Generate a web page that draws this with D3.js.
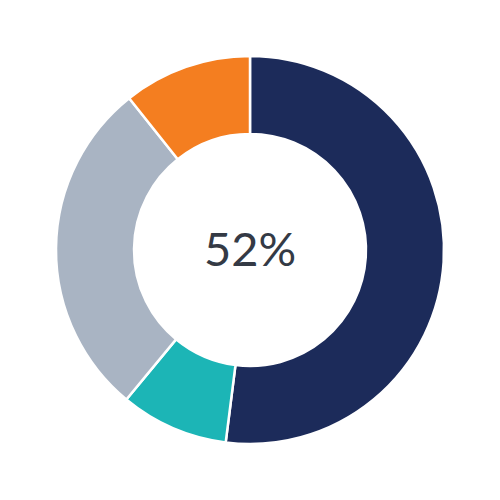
<!DOCTYPE html>
<html><head><meta charset="utf-8">
<script src="https://cdn.jsdelivr.net/npm/d3@7"></script>
<style>html,body{margin:0;padding:0;background:#fff;}</style>
</head><body>
<svg id="c" width="500" height="500"></svg>
<script>
const categories = ["A", "B", "C", "D"];
const values = [52, 9, 28.3, 10.7];
const colors = ["#1c2b5a", "#1cb5b6", "#a9b4c3", "#f47e20"];
const centerLabel = "52%";

const svg = d3.select("#c");
const g = svg.append("g").attr("transform", "translate(250,250)");
const pie = d3.pie().sort(null).value(d => d.v);
const arc = d3.arc().innerRadius(116).outerRadius(194);
const data = categories.map((c, i) => ({c, v: values[i]}));
g.selectAll("path").data(pie(data)).join("path")
  .attr("d", arc)
  .attr("fill", (d, i) => colors[i])
  .attr("stroke", "#fff")
  .attr("stroke-width", 2.5);
g.append("text").text(centerLabel)
  .attr("text-anchor", "middle")
  .attr("y", 16)
  .attr("font-family", "Lato, sans-serif")
  .attr("font-weight", 400)
  .attr("font-size", 47)
  .attr("fill", "#343a45");
</script>
</body></html>
